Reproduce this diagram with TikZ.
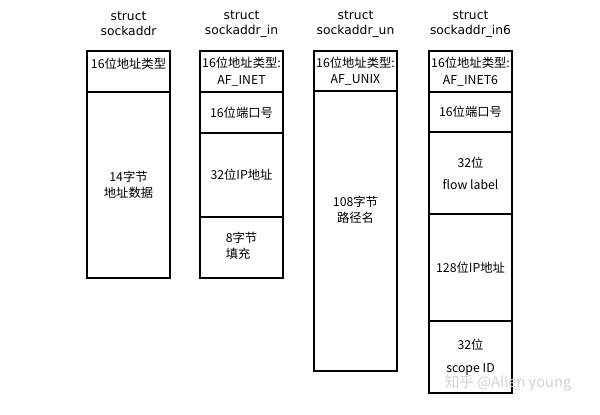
\documentclass[tikz,border=0pt]{standalone}
\usepackage{fontspec}
\setmainfont{DejaVu Sans}
\newfontfamily\cjk{Noto Sans CJK SC}
\usetikzlibrary{positioning}

\tikzstyle{field} = [rectangle, draw=black, line width=2pt, outer sep=0pt, minimum width=2.49cm, inner sep=1pt, align=center, font=\cjk\fontsize{10.5}{14}\selectfont]
\tikzstyle{title} = [align=center, font=\fontsize{10.5}{13}\selectfont]
\tikzstyle{plain} = [align=center, font=\cjk\fontsize{10.5}{14}\selectfont]

\begin{document}
\begin{tikzpicture}[x=0.03cm, y=-0.03cm, node distance=0pt]
\useasboundingbox (0,0) rectangle (600,414);

% struct sockaddr
\node (sa) [title] at (128.5,24) {struct\\sockaddr};
\node (sa_type) [field, anchor=north west, minimum height=1.23cm] at (87,51) {16位地址类型\\\mbox{}};
\node (sa_data) [field, below=of sa_type, minimum height=5.58cm] {14字节\\地址数据};

% struct sockaddr_in
\node (in) [title] at (241.5,24) {struct\\sockaddr\_in};
\node (in_type) [field, anchor=north west, minimum height=1.23cm] at (200,51) {16位地址类型:\\AF\_INET};
\node (in_port) [field, below=of in_type, minimum height=1.23cm] {16位端口号};
\node (in_addr) [field, below=of in_port, minimum height=2.52cm] {32位IP地址};
\node (in_pad) [field, below=of in_addr, minimum height=1.83cm] {\begin{tabular}{@{}l@{}}8字节\\填充\end{tabular}};

% struct sockaddr_un
\node (un) [title] at (355.5,24) {struct\\sockaddr\_un};
\node (un_type) [field, anchor=north west, minimum height=1.2cm] at (314,51) {16位地址类型:\\AF\_UNIX};
\node (un_path) [field, below=of un_type, minimum height=8.4cm] {};
\node (un_text) [plain] at (355.5,210) {108字节\\路径名};

% struct sockaddr_in6
\node (in6) [title] at (470.5,24) {struct\\sockaddr\_in6};
\node (in6_type) [field, anchor=north west, minimum height=1.23cm] at (429,51) {16位地址类型:\\AF\_INET6};
\node (in6_port) [field, below=of in6_type, minimum height=1.2cm] {16位端口号};
\node (in6_flow) [field, below=of in6_port, minimum height=2.46cm] {32位\\[5pt]flow label};
\node (in6_addr) [field, below=of in6_flow, minimum height=3.21cm] {128位IP地址};
\node (in6_scope) [field, below=of in6_addr, minimum height=2.16cm] {32位\\[6pt]scope ID};

\node (mark) [plain, text=gray!35, font=\cjk\fontsize{12.5}{14}\selectfont] at (508,383) {知乎 @Allen young};
\end{tikzpicture}
\end{document}
